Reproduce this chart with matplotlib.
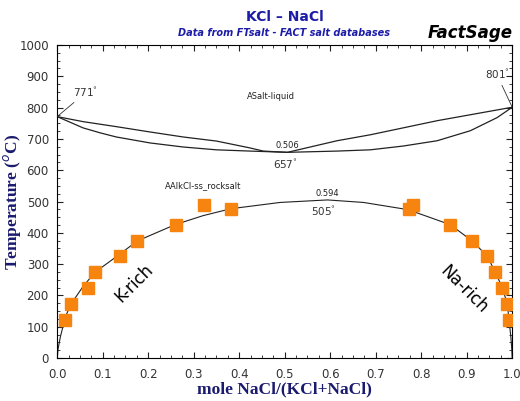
import matplotlib.pyplot as plt
from matplotlib.ticker import MultipleLocator

# liquidus / solidus
liq_x = [0.0, 0.057, 0.13, 0.204, 0.277, 0.35, 0.424, 0.453, 0.506, 0.615, 0.688, 0.76, 0.835, 0.908, 1.0]
liq_T = [771, 755, 739, 722, 706, 693, 671, 661, 657, 694, 713, 735, 758, 777, 801]
sol_x = [0.0, 0.057, 0.095, 0.13, 0.204, 0.277, 0.35, 0.424, 0.506, 0.615, 0.688, 0.76, 0.835, 0.908, 0.967, 1.0]
sol_T = [771, 735, 719, 706, 687, 674, 665, 661, 657, 661, 665, 677, 694, 726, 768, 801]

# miscibility gap (solvus)
gap_x = [0.0, 0.002, 0.007, 0.018, 0.031, 0.057, 0.083, 0.132, 0.176, 0.259, 0.321, 0.382, 0.49,
         0.594, 0.673, 0.771, 0.864, 0.912, 0.945, 0.963, 0.978, 0.989, 0.993, 0.997, 0.999, 1.0]
gap_T = [0, 30, 68, 132, 174, 229, 274, 326, 374, 426, 455, 477, 497,
         505, 497, 474, 426, 374, 326, 274, 226, 174, 123, 68, 30, 0]

# experimental points
exp_x = [0.018, 0.030, 0.067, 0.084, 0.138, 0.176, 0.26, 0.323, 0.382,
         0.774, 0.783, 0.864, 0.911, 0.944, 0.963, 0.977, 0.988, 0.994]
exp_T = [123, 174, 223, 274, 326, 374, 426, 490, 477,
         475, 490, 426, 374, 325, 275, 225, 174, 123]

navy = '#1a1a6e'
blue = '#1c1ca8'

fig = plt.figure(figsize=(5.2, 4.01), dpi=100)
ax = fig.add_axes([0.11, 0.107, 0.875, 0.781])

ax.plot(liq_x, liq_T, color='#222222', lw=0.9)
ax.plot(sol_x, sol_T, color='#222222', lw=0.9)
ax.plot(gap_x, gap_T, color='#222222', lw=0.8)
ax.plot(exp_x, exp_T, 's', color='#f7840f', ms=8, mec='#f7840f', zorder=5)

ax.set_xlim(0, 1)
ax.set_ylim(0, 1000)
ax.xaxis.set_major_locator(MultipleLocator(0.1))
ax.xaxis.set_minor_locator(MultipleLocator(0.025))
ax.yaxis.set_major_locator(MultipleLocator(100))
ax.yaxis.set_minor_locator(MultipleLocator(25))
ax.set_xticks([i / 10 for i in range(11)])
ax.set_xticklabels(['%.1f' % (i / 10) for i in range(11)])
ax.tick_params(which='both', direction='in', top=True, right=True, colors='#222222',
               labelcolor='#333333', labelsize=8.5)
ax.tick_params(axis='x', which='major', pad=7)
ax.tick_params(axis='y', which='major', pad=6)
ax.tick_params(which='major', length=4)
ax.tick_params(which='minor', length=2)
for s in ax.spines.values():
    s.set_linewidth(0.8)

ax.set_xlabel('mole NaCl/(KCl+NaCl)', family='Liberation Serif', fontweight='bold',
              color=navy, fontsize=12.5)
ax.set_ylabel('Temperature ($^o$C)', family='Liberation Serif', fontweight='bold',
              color=navy, fontsize=12.5)
ax.xaxis.set_label_coords(0.5, -0.075)
ax.yaxis.set_label_coords(-0.075, 0.5)

# titles (centred over the plot area)
fig.text(0.547, 0.975, 'KCl \u2013 NaCl', ha='center', va='top', color=blue,
         fontsize=10, fontweight='bold')
fig.text(0.547, 0.93, 'Data from FTsalt - FACT salt databases', ha='center', va='top',
         color=blue, fontsize=7, fontweight='bold', style='italic')
fig.text(0.985, 0.895, 'FactSage', ha='right', va='bottom', color='black',
         fontsize=12, fontweight='bold', style='italic')

# labels inside the diagram
ax.annotate('771$^{\\degree}$', xy=(0.0, 771), xytext=(0.035, 825), fontsize=7.5,
            color='#333333', va='bottom',
            arrowprops=dict(arrowstyle='-', color='#333333', lw=0.6, shrinkA=0, shrinkB=0))
ax.annotate('801$^{\\degree}$', xy=(1.0, 801), xytext=(0.94, 880), fontsize=7.5,
            color='#333333', va='bottom',
            arrowprops=dict(arrowstyle='-', color='#333333', lw=0.6, shrinkA=0, shrinkB=0))
ax.text(0.47, 835, 'ASalt-liquid', fontsize=6, ha='center', va='center', color='#222222')
ax.text(0.506, 663, '0.506', fontsize=6, ha='center', va='bottom', color='#222222')
ax.text(0.5, 640, '657$^{\\degree}$', fontsize=7.5, ha='center', va='top', color='#333333')
ax.text(0.32, 550, 'AAlkCl-ss_rocksalt', fontsize=6, ha='center', va='center', color='#222222')
ax.text(0.594, 510, '0.594', fontsize=6, ha='center', va='bottom', color='#222222')
ax.text(0.585, 488, '505$^{\\degree}$', fontsize=7.5, ha='center', va='top', color='#333333')
ax.text(0.17, 240, 'K-rich', fontsize=12, rotation=45, ha='center', va='center', color='black')
ax.text(0.895, 220, 'Na-rich', fontsize=12, rotation=-45, ha='center', va='center', color='black')

plt.savefig('out.png', dpi=100)
